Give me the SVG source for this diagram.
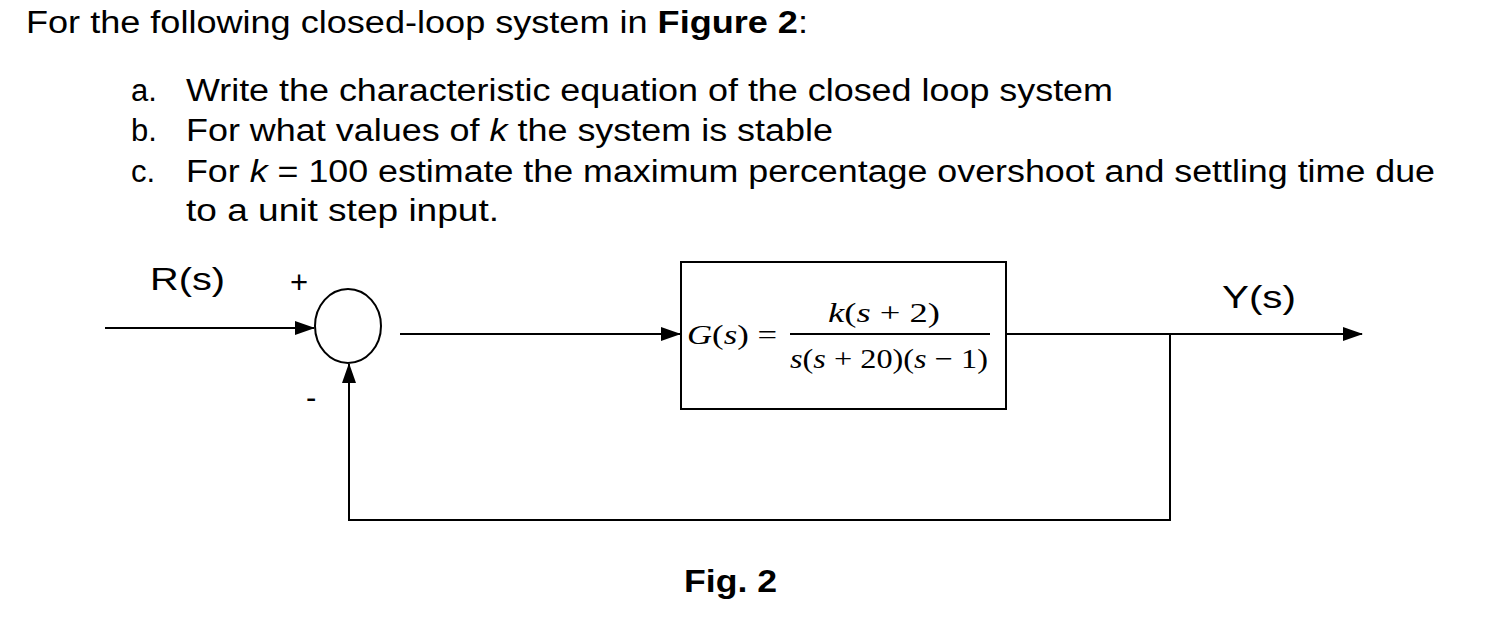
<svg xmlns="http://www.w3.org/2000/svg" width="1488" height="628" viewBox="0 0 1488 628">
<style>
.t{font-family:"Liberation Sans",Arial,sans-serif;font-size:31px;fill:#000}
.m{font-family:"Liberation Serif","Times New Roman",serif;font-size:28px;fill:#000}
.l{stroke:#000;stroke-width:2;fill:none}
</style>
<defs><marker id="a" markerWidth="20" markerHeight="14" refX="19" refY="7" orient="auto" markerUnits="userSpaceOnUse"><path d="M0,0L20,7L0,14z" fill="#000"/></marker></defs>
<rect width="1488" height="628" fill="#fff"/>
<text class="t" x="26" y="33" textLength="782" lengthAdjust="spacingAndGlyphs">For the following closed-loop system in <tspan font-weight="bold">Figure 2</tspan>:</text>
<text class="t" x="131" y="101">a.</text><text class="t" x="186" y="101" textLength="927" lengthAdjust="spacingAndGlyphs">Write the characteristic equation of the closed loop system</text>
<text class="t" x="131" y="141">b.</text><text class="t" x="186" y="141" textLength="647" lengthAdjust="spacingAndGlyphs">For what values of <tspan font-style="italic">k</tspan> the system is stable</text>
<text class="t" x="131" y="182">c.</text><text class="t" x="186" y="182" textLength="1249" lengthAdjust="spacingAndGlyphs">For <tspan font-style="italic">k</tspan> = 100 estimate the maximum percentage overshoot and settling time due</text>
<text class="t" x="186" y="221" textLength="313" lengthAdjust="spacingAndGlyphs">to a unit step input.</text>
<text class="t" x="150" y="290" textLength="75" lengthAdjust="spacingAndGlyphs">R(s)</text>
<text class="t" x="290" y="293">+</text>
<text class="t" x="306" y="408">-</text>
<text class="t" x="1222" y="308" textLength="74" lengthAdjust="spacingAndGlyphs">Y(s)</text>
<text class="t" x="684" y="592" font-weight="bold" textLength="93" lengthAdjust="spacingAndGlyphs">Fig. 2</text>
<g id="sum"><ellipse class="l" cx="348" cy="326" rx="33" ry="37"/></g>
<g id="G"><rect class="l" x="681" y="262" width="325" height="147"/>
<text class="m" x="687" y="344" textLength="90" lengthAdjust="spacingAndGlyphs"><tspan font-style="italic">G</tspan>(<tspan font-style="italic">s</tspan>) =</text>
<line class="l" x1="790" y1="334" x2="990" y2="334" stroke-width="1.2"/>
<text class="m" x="828" y="322" textLength="112" lengthAdjust="spacingAndGlyphs"><tspan font-style="italic">k</tspan>(<tspan font-style="italic">s</tspan> + 2)</text>
<text class="m" x="790" y="368" textLength="198" lengthAdjust="spacingAndGlyphs"><tspan font-style="italic">s</tspan>(<tspan font-style="italic">s</tspan> + 20)(<tspan font-style="italic">s</tspan> − 1)</text>
</g>
<g id="connectors">
<line class="l" x1="105" y1="328" x2="314" y2="328" marker-end="url(#a)"/>
<line class="l" x1="400" y1="334" x2="680" y2="334" marker-end="url(#a)"/>
<line class="l" x1="1006" y1="334" x2="1362" y2="334" marker-end="url(#a)"/>
<polyline class="l" points="1170,334 1170,520 349,520 349,364" marker-end="url(#a)"/>
</g>
</svg>
